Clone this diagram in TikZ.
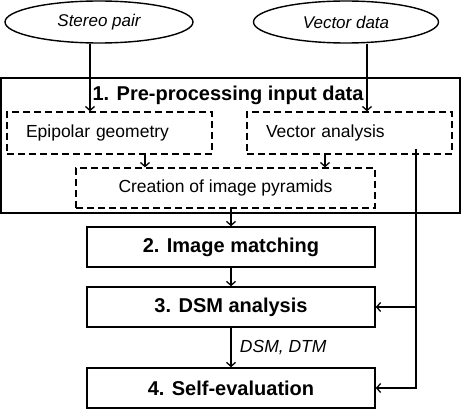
\documentclass[tikz,border=0pt]{standalone}
\usepackage{fontspec}
\setmainfont{Liberation Sans}
\usetikzlibrary{arrows.meta,shapes.geometric}

\tikzset{
  src/.style={ellipse,draw,line width=1.4pt,minimum width=188pt,minimum height=42pt,font=\fontsize{17}{19}\selectfont\itshape},
  sub/.style={draw,line width=1.3pt,dash pattern=on 7pt off 4pt,minimum height=42pt,font=\fontsize{17.5}{20}\selectfont},
  stage/.style={draw,line width=1.5pt,minimum width=288pt,minimum height=40pt,font=\fontsize{20}{22}\selectfont\bfseries},
  arr/.style={line width=1.3pt,-{Straight Barb[length=4pt,width=9pt,line width=1.3pt]}}
}

\begin{document}
\begin{tikzpicture}[x=1pt,y=-1pt]
  \useasboundingbox (0,0) rectangle (474,409);
  % inputs
  \node[src] (stereo) at (99,22) {Stereo pair};
  \node[src,minimum width=185pt] (vdata) at (346,22) {Vector data};
  % stage 1 frame
  \draw[line width=1.5pt] (1,78) rectangle (460,213);
  \node[font=\fontsize{20}{22}\selectfont\bfseries] (pre) at (228,95) {1. Pre-processing input data};
  \node[sub,text width=167pt,inner xsep=19pt,align=left] (epi) at (109.5,133) {Epipolar geometry};
  \node[sub,text width=167pt,inner xsep=19pt,align=left] (vec) at (349.5,133) {Vector analysis};
  \node[sub,minimum width=299pt,minimum height=40pt] (pyr) at (225.5,188) {Creation of image pyramids};
  % stages 2-4
  \node[stage] (match) at (231,247) {2. Image matching};
  \node[stage] (dsm) at (231,307) {3. DSM analysis};
  \node[stage] (selfev) at (231,388) {4. Self-evaluation};

  \draw[arr] ([xshift=-9pt]stereo.south) -- ([xshift=-9pt]stereo.south |- epi.north);
  \draw[arr] ([xshift=21pt]vdata.south) -- ([xshift=21pt]vdata.south |- vec.north);
  \draw[arr] ([xshift=35.5pt]epi.south) -- ([xshift=35.5pt]epi.south |- pyr.north);
  \draw[arr] ([xshift=-24.5pt]vec.south) -- ([xshift=-24.5pt]vec.south |- pyr.north);
  \draw[arr] (match.north |- pyr.south) -- (match.north);
  \draw[arr] (match) -- (dsm);
  \draw[arr] (dsm) -- node[right,xshift=5pt,font=\fontsize{17.5}{20}\selectfont\itshape] (dlabel) {DSM, DTM} (selfev);
  \coordinate (vcol) at ([xshift=66.5pt,yshift=6pt]vec.south);
  \draw[arr] (vcol) |- (selfev.east);
  \draw[arr] (vcol |- dsm.east) -- (dsm.east);
\end{tikzpicture}
\end{document}
